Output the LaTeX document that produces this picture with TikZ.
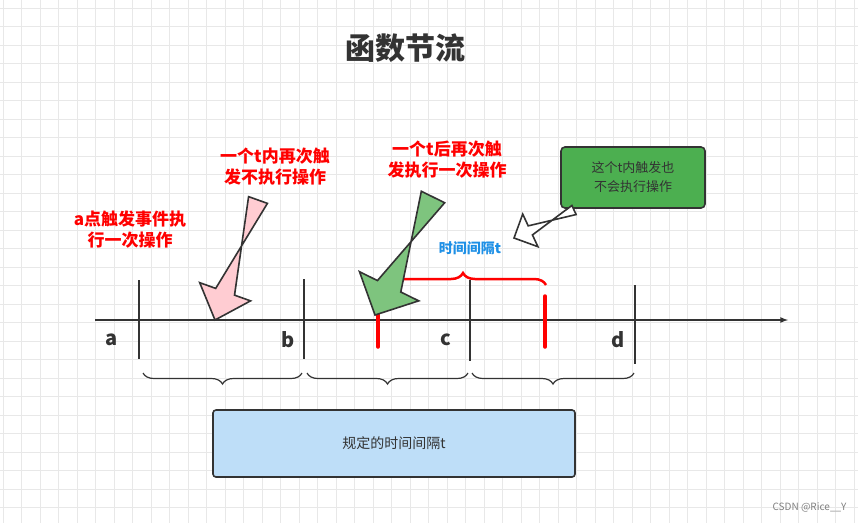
\documentclass[tikz,border=0pt]{standalone}
\usepackage{fontspec}
\setmainfont{Noto Sans CJK SC}
\usetikzlibrary{calc,decorations.pathreplacing}
\definecolor{ink}{RGB}{51,51,51}
\definecolor{gridc}{RGB}{232,232,232}
\definecolor{pinkf}{RGB}{255,204,210}
\definecolor{greenf}{RGB}{126,196,126}
\definecolor{boxgreen}{RGB}{76,175,80}
\definecolor{boxblue}{RGB}{190,222,248}
\definecolor{tblue}{RGB}{30,144,230}
\tikzset{
  axisline/.style={ink, line width=1.6pt},
  tick/.style={ink, line width=1.6pt},
  redtick/.style={red, line width=3.5pt, line cap=round},
  lbl/.style={ink, font=\bfseries\fontsize{20}{20}\selectfont},
  note/.style={red, align=center, font=\bfseries\fontsize{17}{21}\selectfont},
  brc/.style={ink, line width=1.2pt, decorate, decoration={brace, amplitude=11pt, raise=0pt}},
  blockarrow/.style={ink, line width=1.6pt, line join=miter}
}
% block arrow: tail, tip, shaft half width, head half width, head length, fill
\newcommand{\blockarr}[6]{%
  \path ($(#2)!#5!(#1)$) coordinate (hb);
  \filldraw[blockarrow, fill=#6]
    ($(#1)!#3!90:(#2)$) -- ($(hb)!#3!-90:(#2)$) -- ($(hb)!#4!-90:(#2)$) -- (#2)
    -- ($(hb)!#4!90:(#2)$) -- ($(hb)!#3!90:(#2)$) -- ($(#1)!#3!-90:(#2)$) -- cycle;
}
\begin{document}
\begin{tikzpicture}[x=1pt,y=-1pt]
  \useasboundingbox (0,0) rectangle (858,523);
  \fill[white] (0,0) rectangle (858,523);
  % grid
  \foreach \i in {0,...,47} {
    \draw[gridc, line width=0.5pt] (\i*18.5+3,0) -- (\i*18.5+3,523);
  }
  \foreach \j in {0,...,29} {
    \draw[gridc, line width=0.5pt] (0,\j*18.5+8) -- (858,\j*18.5+8);
  }
  \node[ink, font=\bfseries\fontsize{30}{30}\selectfont] (title) at (405,48) {函数节流};
  % time axis
  \coordinate (start) at (95,320);
  \coordinate (end) at (788,320);
  \draw[axisline, -latex] (start) -- (end);
  \foreach \n/\x/\ya/\yb in {ta/139/280/359, tb/304/279/359, tc/470/280/361, td/635/285/364} {
    \coordinate (\n top) at (\x,\ya);
    \coordinate (\n bot) at (\x,\yb);
    \draw[tick] (\n top) -- (\n bot);
  }
  \node[lbl] (a) at (112,340) {a};
  \node[lbl] (b) at (288,340) {b};
  \node[lbl] (c) at (446,340) {c};
  \node[lbl] (d) at (618,340) {d};
  % red interval
  \coordinate (r1top) at (378,293);
  \coordinate (r1bot) at (378,347);
  \coordinate (r2top) at (545,296);
  \coordinate (r2bot) at (545,347);
  \draw[redtick] (r1top) -- (r1bot);
  \draw[redtick] (r2top) -- (r2bot);
  \draw[red, line width=2.5pt, decorate, decoration={brace, amplitude=12pt}]
    (380,285) -- (546,285);
  \node[tblue, font=\bfseries\fontsize{14}{14}\selectfont] (gap) at (470,248) {时间间隔t};
  % lower braces
  \draw[brc] (302,373) -- (143,373);
  \draw[brc] (468,373) -- (307,373);
  \draw[brc] (634,373) -- (472,373);
  \node[draw=ink, line width=1.6pt, fill=boxblue, rounded corners=3pt,
    minimum width=362pt, minimum height=67pt, font=\fontsize{14}{14}\selectfont, text=ink]
    (rule) at (394,443.5) {规定的时间间隔t};
  % notes
  \node[note] (n1) at (130,230) {a点触发事件执\\行一次操作};
  \node[note] (n2) at (275,167) {一个t内再次触\\发不执行操作};
  \node[note] (n3) at (447,160) {一个t后再次触\\发执行一次操作};
  \node[draw=ink, line width=1.6pt, fill=boxgreen, rounded corners=4pt, align=center,
    minimum width=144pt, minimum height=61pt, text=ink, font=\fontsize{13}{19}\selectfont]
    (box) at (633,177.5) {这个t内触发也\\不会执行操作};
  % block arrows
  \coordinate (p1) at (258,200);
  \coordinate (p2) at (215,320);
  \coordinate (g1) at (433,197);
  \coordinate (g2) at (375,315);
  \coordinate (w1) at (574,210);
  \coordinate (w2) at (514,238);
  \blockarr{p1}{p2}{10pt}{27pt}{30pt}{pinkf}
  \blockarr{g1}{g2}{13pt}{33pt}{32pt}{greenf}
  \blockarr{w1}{w2}{5pt}{18pt}{18pt}{white}
  \node[gray, font=\fontsize{10}{10}\selectfont, anchor=east] (mark) at (850,507) {CSDN @Rice\_\_Y};
\end{tikzpicture}
\end{document}
